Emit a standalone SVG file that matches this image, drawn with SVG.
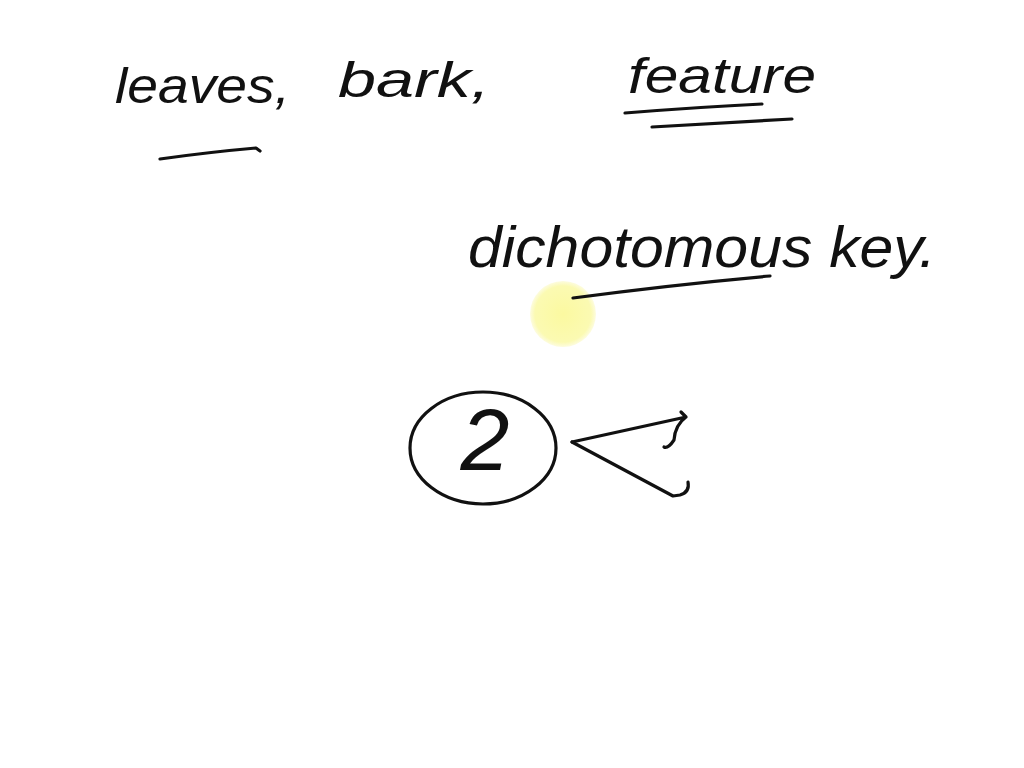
<svg xmlns="http://www.w3.org/2000/svg" width="1024" height="768" viewBox="0 0 1024 768">
<style>
.hw{font-family:"Liberation Sans","DejaVu Sans",sans-serif;font-style:italic;fill:#111;}
.ink{fill:none;stroke:#111;stroke-width:3.2;stroke-linecap:round;stroke-linejoin:round;}
</style>
<defs>
<radialGradient id="hl" cx="0.5" cy="0.5" r="0.5">
<stop offset="0" stop-color="#fbf9a0"/>
<stop offset="0.85" stop-color="#fbfab2"/>
<stop offset="1" stop-color="#fdfce0"/>
</radialGradient>
</defs>
<rect width="1024" height="768" fill="#ffffff"/>
<circle cx="563" cy="314" r="33" fill="url(#hl)"/>
<g id="label-leaves-bark">
<text class="hw" x="115" y="103" font-size="50" textLength="175" lengthAdjust="spacingAndGlyphs">leaves,</text>
<text class="hw" x="338" y="97" font-size="50" textLength="152" lengthAdjust="spacingAndGlyphs">bark,</text>
</g>
<g id="label-feature">
<text class="hw" x="628" y="93" font-size="50" textLength="188" lengthAdjust="spacingAndGlyphs">feature</text>
</g>
<g id="label-dichotomous-key">
<text class="hw" x="468" y="267" font-size="58" textLength="468" lengthAdjust="spacingAndGlyphs">dichotomous key.</text>
</g>
<g id="node-2">
<ellipse class="ink" cx="483" cy="448" rx="73" ry="56"/>
<text class="hw" x="485" y="470" font-size="88" text-anchor="middle">2</text>
</g>
<g id="connectors">
<path class="ink" d="M160 159 Q210 152 256 148 L260 151"/>
<path class="ink" d="M625 113 Q700 107 762 104"/>
<path class="ink" d="M652 127 Q720 123 792 119"/>
<path class="ink" d="M573 298 Q670 285 770 276"/>
<path class="ink" d="M572 442 L686 417 L681 412 M686 417 Q675 425 674 440 Q668 449 664 447"/>
<path class="ink" d="M572 442 L673 496 L680 495 Q690 492 688 482"/>
</g>
</svg>
